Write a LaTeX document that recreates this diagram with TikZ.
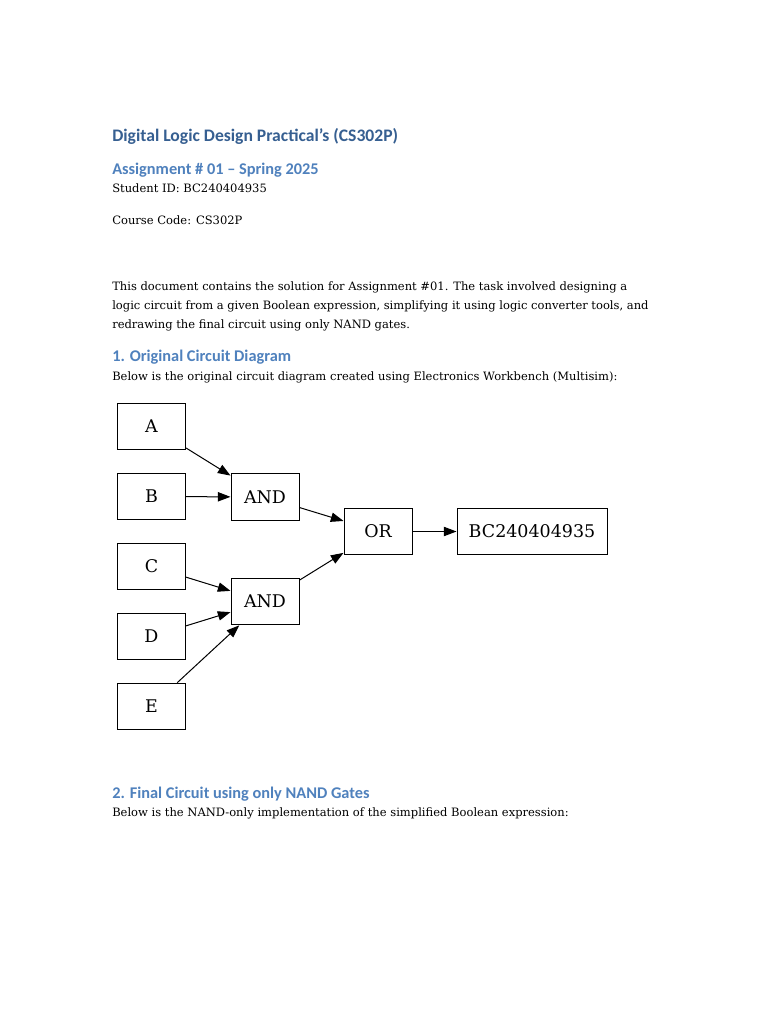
\documentclass[tikz,border=0pt]{standalone}
\usepackage{fontspec}
\setmainfont{DejaVu Serif}
\newfontfamily\headfont{Carlito}
\newfontfamily\gvfont{DejaVu Serif}
\usetikzlibrary{arrows.meta}
\definecolor{hdone}{HTML}{365F91}
\definecolor{hdtwo}{HTML}{4F81BD}

\begin{document}
\begin{tikzpicture}[x=0.75pt, y=-0.75pt,
    ttl/.style={anchor=base west, inner sep=0pt, font=\headfont\bfseries\fontsize{13.2}{16}\selectfont, text=hdone},
    sub/.style={anchor=base west, inner sep=0pt, font=\headfont\bfseries\fontsize{12.25}{15}\selectfont, text=hdtwo},
    txt/.style={anchor=base west, inner sep=0pt, font=\fontsize{8.64}{14.25}\selectfont},
    gate/.style={draw, line width=0.75pt, minimum width=51pt, minimum height=35pt, inner sep=0pt, font=\gvfont\fontsize{13.1}{16}\selectfont},
    wire/.style={-{Triangle[length=9.5pt,width=7pt]}, line width=0.75pt},
  ]
  \useasboundingbox (0,0) rectangle (768,1024);
  \fill[white] (0,0) rectangle (768,1024);

  % header
  \node[ttl] (title) at (112,142) {Digital Logic Design Practical’s (CS302P)};
  \node[sub] (assign) at (112,174) {Assignment \# 01 – Spring 2025};
  \node[txt] (sid) at (112,192) {Student ID: BC240404935};
  \node[txt] (code) at (112,224) {Course Code: CS302P};

  \node[txt] (par1) at (112,290) {This document contains the solution for Assignment \#01. The task involved designing a};
  \node[txt] (par2) at (112,309) {logic circuit from a given Boolean expression, simplifying it using logic converter tools, and};
  \node[txt] (par3) at (112,328) {redrawing the final circuit using only NAND gates.};

  \node[sub] (secone) at (112,361) {1. Original Circuit Diagram};
  \node[txt] (belowone) at (112,380) {Below is the original circuit diagram created using Electronics Workbench (Multisim):};

  % circuit
  \node[gate] (A) at (151.5,426.5) {A};
  \node[gate] (B) at (151.5,496.5) {B};
  \node[gate] (C) at (151.5,566.5) {C};
  \node[gate] (D) at (151.5,636.5) {D};
  \node[gate] (E) at (151.5,706.5) {E};
  \node[gate] (and1) at (265,497) {AND};
  \node[gate] (and2) at (265,601.5) {AND};
  \node[gate] (or) at (378,531.5) {OR};
  \node[gate, minimum width=112.5pt] (out) at (532,531.5) {BC240404935};

  \draw[wire] (A) -- (and1);
  \draw[wire] (B) -- (and1);
  \draw[wire] (C) -- (and2);
  \draw[wire] (D) -- (and2);
  \draw[wire] (E) -- (and2);
  \draw[wire] (and1) -- (or);
  \draw[wire] (and2) -- (or);
  \draw[wire] (or) -- (out);

  \node[sub] (sectwo) at (112,798) {2. Final Circuit using only NAND Gates};
  \node[txt] (belowtwo) at (112,816) {Below is the NAND-only implementation of the simplified Boolean expression:};
\end{tikzpicture}
\end{document}
